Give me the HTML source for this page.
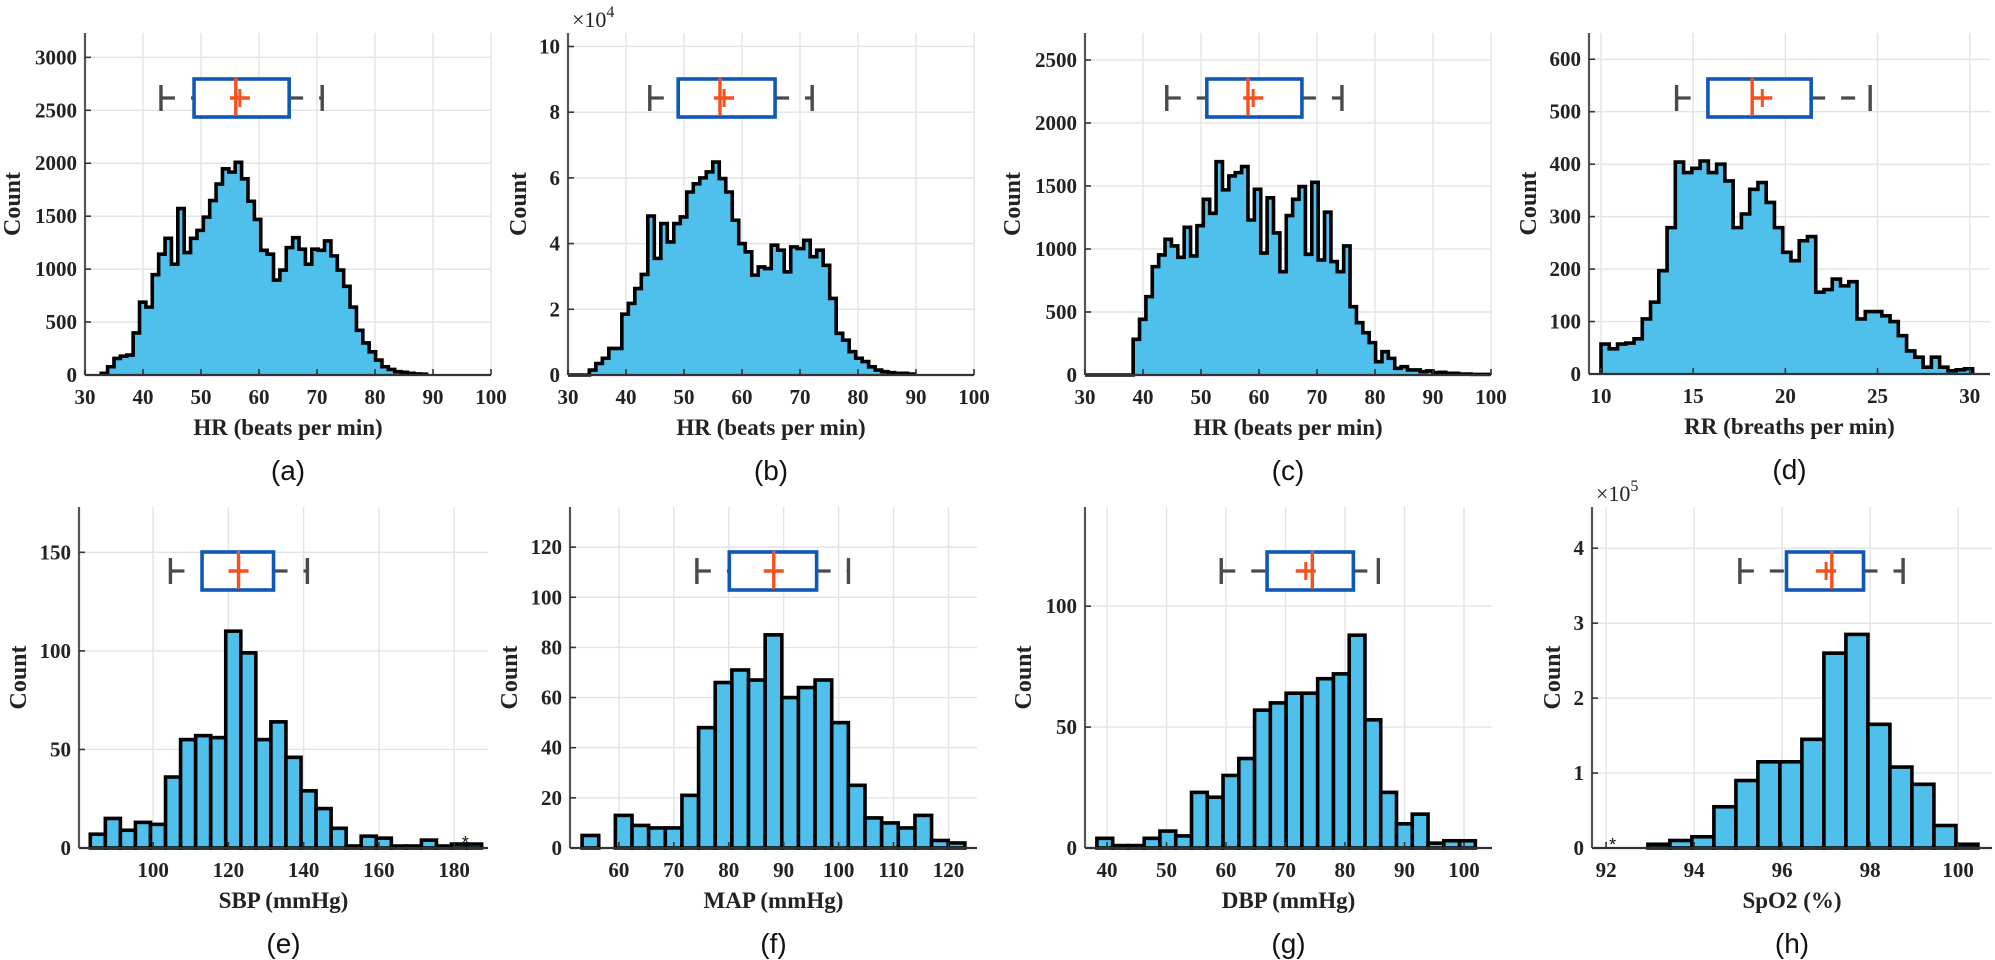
<!DOCTYPE html>
<html><head><meta charset="utf-8"><style>
html,body{margin:0;padding:0;background:#fff;}
svg{display:block;font-family:"Liberation Serif",serif;}
</style></head><body>
<svg id="chart" width="1995" height="960" viewBox="0 0 1995 960" xmlns="http://www.w3.org/2000/svg"></svg>
<script>
// ---------- data ----------
const aCounts=[16,78,156,178,188,397,688,641,947,1141,1291,1047,1572,1156,1291,1366,1491,1647,1803,1947,1916,2009,1853,1641,1469,1178,1141,897,991,1203,1297,1188,1047,1188,1178,1266,1125,991,838,641,422,303,219,141,78,53,31,25,16,10,8];
const aBin=[32.8,1.1];
const aBox=[43.1,48.8,65.2,70.9,56.0,56.7];
const aXTicks=[30,40,50,60,70,80,90,100];
const aYTicks=[0,500,1000,1500,2000,2500,3000];

const bCounts=[0,0,0,0,0.15,0.35,0.51,0.81,0.81,1.85,2.18,2.63,3.06,4.84,3.55,4.61,4.05,4.61,4.81,5.57,5.82,6.0,6.18,6.48,5.98,5.57,4.71,4.0,3.75,3.04,3.29,3.24,3.95,3.8,3.14,3.9,3.85,4.1,3.6,3.8,3.34,2.33,1.27,1.06,0.71,0.51,0.41,0.25,0.15,0.1,0.07,0.05,0.05,0.03];
const bBin=[29.2,1.12];
const bBox=[44.1,49.0,65.7,72.1,56.2,56.9];
const bXTicks=[30,40,50,60,70,80,90,100];
const bYTicks=[0,2,4,6,8,10];

const cCounts=[0,0,0,0,0,0,0,0,283,442,622,860,953,1077,1024,934,1172,945,1185,1394,1283,1693,1469,1580,1606,1654,1230,1474,968,1406,1127,820,1265,1394,1495,958,1529,913,1292,900,820,1024,542,415,336,257,106,185,132,53,66,40,40,26,32,18,21,13,13,8,8,5,5,5];
const cBin=[29.5,1.1];
const cBox=[44.1,51.0,67.4,74.3,58.1,59.0];
const cXTicks=[30,40,50,60,70,80,90,100];
const cYTicks=[0,500,1000,1500,2000,2500];

const dCounts=[57,48,57,59,67,105,137,197,279,404,384,392,406,384,400,368,279,305,352,365,327,279,232,216,254,262,156,161,181,168,176,105,119,119,111,100,73,44,32,13,32,13,6,8,10];
const dBin=[10.0,0.448];
const dBox=[14.1,15.8,21.4,24.6,18.2,18.75];
const dXTicks=[10,15,20,25,30];
const dYTicks=[0,100,200,300,400,500,600];

const eCounts=[7,15,9,13,12,36,55,57,56,110,99,55,64,46,29,20,10,1,6,5,1,1,4,1,2,2];
const eBin=[83.3,4];
const eBox=[104.6,113.0,132.0,141.0,122.7,122.7];
const eOutliers=[[183,4]];
const eXTicks=[100,120,140,160,180];
const eYTicks=[0,50,100,150];

const fCounts=[5,0,13,9,8,8,21,48,66,71,67,85,60,64,67,50,25,12,10,8,13,3,2];
const fBin=[53.3,3.03];
const fBox=[74.2,80.1,96.0,101.8,88.2,88.2];
const fXTicks=[60,70,80,90,100,110,120];
const fYTicks=[0,20,40,60,80,100,120];

const gCounts=[4,1,1,4,7,5,23,21,30,37,57,60,64,64,70,72,88,53,23,10,14,2,3,3];
const gBin=[38.3,2.65];
const gBox=[59.2,66.9,81.4,85.6,74.5,73.4];
const gXTicks=[40,50,60,70,80,90,100];
const gYTicks=[0,50,100];

const hCounts=[0.0,0,0.05,0.1,0.15,0.55,0.9,1.15,1.15,1.45,2.6,2.85,1.65,1.08,0.85,0.3,0.05];
const hBin=[91.95,0.5];
const hBox=[95.04,96.1,97.85,98.75,97.13,97.0];
const hOutliers=[[92.15,0.08]];
const hXTicks=[92,94,96,98,100];
const hYTicks=[0,1,2,3,4];

// ---------- layout ----------
const panels=[
 {id:'a',counts:aCounts,bin:aBin,box:aBox,xt:aXTicks,yt:aYTicks,L:85,R:491,T:33,B:375,x0:30,x1:100,ymax:3230,style:'stairs',xl:'HR (beats per min)',cx:73,boxY:98},
 {id:'b',counts:bCounts,bin:bBin,box:bBox,xt:bXTicks,yt:bYTicks,L:568,R:974,T:33,B:375,x0:30,x1:100,ymax:10.41,style:'stairs',xl:'HR (beats per min)',cx:50,boxY:98,exp:'4'},
 {id:'c',counts:cCounts,bin:cBin,box:cBox,xt:cXTicks,yt:cYTicks,L:1085,R:1491,T:33,B:375,x0:30,x1:100,ymax:2714,style:'stairs',xl:'HR (beats per min)',cx:73,boxY:98},
 {id:'d',counts:dCounts,bin:dBin,box:dBox,xt:dXTicks,yt:dYTicks,L:1589,R:1990,T:33,B:374,x0:9.35,x1:31.1,ymax:650,style:'stairs',xl:'RR (breaths per min)',cx:61,boxY:98},
 {id:'e',counts:eCounts,bin:eBin,box:eBox,xt:eXTicks,yt:eYTicks,L:79,R:488,T:507,B:848,x0:80.3,x1:189,ymax:173,style:'bars',xl:'SBP (mmHg)',cx:61,boxY:571,out:eOutliers},
 {id:'f',counts:fCounts,bin:fBin,box:fBox,xt:fXTicks,yt:fYTicks,L:570,R:977,T:507,B:848,x0:51.1,x1:125.2,ymax:136,style:'bars',xl:'MAP (mmHg)',cx:61,boxY:571},
 {id:'g',counts:gCounts,bin:gBin,box:gBox,xt:gXTicks,yt:gYTicks,L:1085,R:1492,T:507,B:848,x0:36.3,x1:104.7,ymax:141,style:'bars',xl:'DBP (mmHg)',cx:62,boxY:571},
 {id:'h',counts:hCounts,bin:hBin,box:hBox,xt:hXTicks,yt:hYTicks,L:1592,R:1992,T:507,B:848,x0:91.68,x1:100.77,ymax:4.55,style:'bars',xl:'SpO2 (%)',cx:40,boxY:571,exp:'5',out:hOutliers}
];

const NS='http://www.w3.org/2000/svg';
const svg=document.getElementById('chart');
function mk(tag,attrs,parent){const e=document.createElementNS(NS,tag);for(const k in attrs)e.setAttribute(k,attrs[k]);(parent||svg).appendChild(e);return e;}

const defs=mk('defs',{});
panels.forEach(p=>{
  const xs=v=>p.L+(v-p.x0)/(p.x1-p.x0)*(p.R-p.L);
  const ys=v=>p.B-v/p.ymax*(p.B-p.T);
  const g=mk('g',{});
  
  
  const cp=mk('clipPath',{id:'clip-'+p.id},defs);
  mk('rect',{x:p.L,y:p.T-2,width:p.R-p.L,height:p.B-p.T+4},cp);

  p.xt.forEach(v=>{const x=xs(v);if(x<p.L+1)return;
    const l=mk('line',{x1:x,x2:x,y1:p.T,y2:p.B,stroke:'#e3e3e3','stroke-width':1.4},g);
    
    });
  p.yt.forEach(v=>{const y=ys(v);if(v===0)return;
    const l=mk('line',{x1:p.L,x2:p.R,y1:y,y2:y,stroke:'#e3e3e3','stroke-width':1.4},g);
    
    });

  const hg=mk('g',{'clip-path':'url(#clip-'+p.id+')'},g);
  
  
  const start=p.bin[0],w=p.bin[1];
  if(p.style==='stairs'){
    let d='M'+xs(start)+','+ys(0);
    p.counts.forEach((v,i)=>{d+=' L'+xs(start+i*w)+','+ys(v)+' L'+xs(start+(i+1)*w)+','+ys(v);});
    d+=' L'+xs(start+p.counts.length*w)+','+ys(0);
    const f=mk('path',{d:d+' Z',fill:'#4fbfec',stroke:'none'},hg);
    
    
    const s=mk('path',{d:d,fill:'none',stroke:'#000','stroke-width':3.6,'stroke-linejoin':'miter'},hg);
    
    
  } else {
    p.counts.forEach((v,i)=>{
      const x=xs(start+i*w),x2=xs(start+(i+1)*w),y=ys(v);
      const r=mk('rect',{x:x,y:y,width:x2-x,height:p.B-y,fill:'#4fbfec',stroke:'#000','stroke-width':3.6},hg);
      
      
    });
  }

  const ax=mk('line',{x1:p.L,x2:p.R,y1:p.B,y2:p.B,stroke:'#333','stroke-width':2.2},g);
  
  
  const ay=mk('line',{x1:p.L,x2:p.L,y1:p.T,y2:p.B,stroke:'#555','stroke-width':2.2},g);
  
  

  p.xt.forEach(v=>{const x=xs(v);
    if(x>=p.L){const tk=mk('line',{x1:x,x2:x,y1:p.B,y2:p.B-6,stroke:'#333','stroke-width':1.6},g);
      
      }
    const t=mk('text',{x:x,y:p.B+29,'text-anchor':'middle','font-size':21,'font-weight':'bold',fill:'#222'},g);
    t.textContent=v;
    
    });
  p.yt.forEach(v=>{const y=ys(v);
    const tk=mk('line',{x1:p.L,x2:p.L+6,y1:y,y2:y,stroke:'#333','stroke-width':1.6},g);
    
    
    const t=mk('text',{x:p.L-8,y:y+7,'text-anchor':'end','font-size':21,'font-weight':'bold',fill:'#222'},g);
    t.textContent=v;
    
    });

  if(p.exp){
    const t=mk('text',{x:p.L+4,y:p.T-6,'font-size':22,fill:'#222'},g);
    t.textContent='×10';
    const s=mk('tspan',{dy:-10,'font-size':16},t);
    s.textContent=p.exp;
    
    
  }

  const xl=mk('text',{x:(p.L+p.R)/2,y:p.B+60,'text-anchor':'middle','font-size':23,'font-weight':'bold',fill:'#222'},g);
  xl.textContent=p.xl;
  
  
  const ymid=(p.T+p.B)/2, ylx=p.L-p.cx;
  const yl=mk('text',{x:ylx,y:ymid,'text-anchor':'middle','font-size':24,'font-weight':'bold',fill:'#222',transform:'rotate(-90 '+ylx+' '+ymid+') translate(0 8)'},g);
  yl.textContent='Count';
  
  
  const pl=mk('text',{x:(p.L+p.R)/2,y:p.B+105,'text-anchor':'middle','font-size':28,'font-family':'Liberation Sans, sans-serif',fill:'#111'},g);
  pl.textContent='('+p.id+')';
  
  

  const bg=mk('g',{},g);
  
  
  const b=p.box, cy=p.boxY;
  const wl=mk('line',{x1:xs(b[0]),x2:xs(b[1]),y1:cy,y2:cy,stroke:'#4a4a4a','stroke-width':3.2,'stroke-dasharray':'14,16'},bg);
  
  
  const wr=mk('line',{x1:xs(b[2]),x2:xs(b[3]),y1:cy,y2:cy,stroke:'#4a4a4a','stroke-width':3.2,'stroke-dasharray':'14,16'},bg);
  
  
  [b[0],b[3]].forEach(v=>{
    const c=mk('line',{x1:xs(v),x2:xs(v),y1:cy-13,y2:cy+13,stroke:'#4a4a4a','stroke-width':3.4},bg);
    
    });
  const br=mk('rect',{x:xs(b[1]),y:cy-19,width:xs(b[2])-xs(b[1]),height:38,fill:'#fff',stroke:'#0f58b8','stroke-width':3.6},bg);
  
  
  const md=mk('line',{x1:xs(b[4]),x2:xs(b[4]),y1:cy-20,y2:cy+18,stroke:'#f4511e','stroke-width':3.4},bg);
  
  
  const mh=mk('line',{x1:xs(b[5])-10,x2:xs(b[5])+10,y1:cy,y2:cy,stroke:'#f4511e','stroke-width':3.4},bg);
  
  
  const mv=mk('line',{x1:xs(b[5]),x2:xs(b[5]),y1:cy-9,y2:cy+9,stroke:'#f4511e','stroke-width':3},bg);
  
  

  (p.out||[]).forEach(o=>{
    const t=mk('text',{x:xs(o[0]),y:ys(o[1])+9,'text-anchor':'middle','font-size':18,'font-family':'Liberation Sans, sans-serif',fill:'#111'},g);
    t.textContent='*';
    
    
  });
});
</script>
</body></html>
